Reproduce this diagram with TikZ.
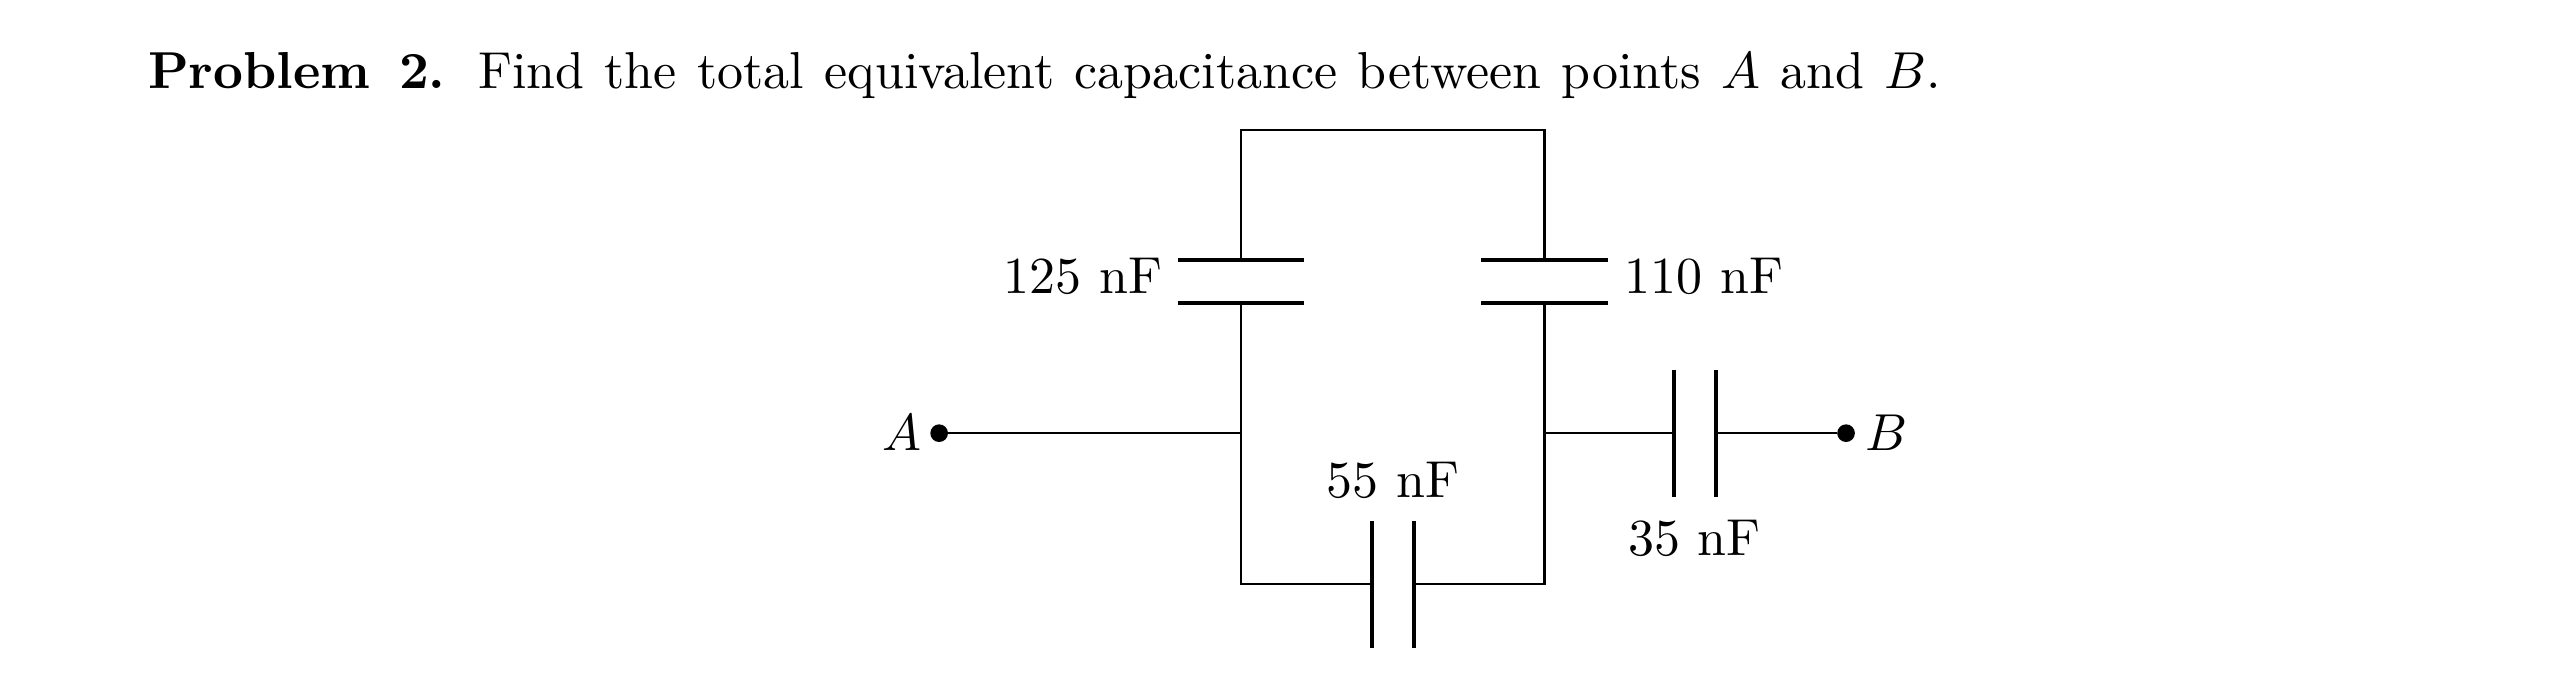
\documentclass[tikz,border=0pt]{standalone}
\usepackage{amsmath, amssymb}
\usetikzlibrary{calc}
\tikzstyle{platehor}=[rectangle,fill=black,inner sep=0pt,outer sep=0pt,minimum width=1.704cm/2,minimum height=0.8pt]
\tikzstyle{platever}=[rectangle,fill=black,inner sep=0pt,outer sep=0pt,minimum width=0.8pt,minimum height=1.716cm/2]
\tikzstyle{borne}=[circle,fill=black,inner sep=0pt,outer sep=0pt,minimum size=3.4pt]
\tikzstyle{valeur}=[inner sep=0pt]
\tikzstyle{fil}=[line width=0.4pt]
\begin{document}
\begin{tikzpicture}
\useasboundingbox (0,0) rectangle (17.262,4.686);
\node[valeur,anchor=base west] (titre) at (0.994,4.09) {\hbox to 345pt{\textbf{Problem\hskip 1pt\ 2.} Find the total equivalent capacitance between points $A$ and $B$.}};
%Bornes
\node[borne] (a) at (6.350,1.757) {};
\node[borne] (b) at (12.482,1.757) {};
\node[valeur] (la) at (6.096,1.757) {$A$};
\node[valeur] (lb) at (12.757,1.757) {$B$};
%Coins
\coordinate (hg) at (8.394,3.804);
\coordinate (hd) at (10.443,3.804);
\coordinate (mg) at (8.394,1.757);
\coordinate (md) at (10.443,1.757);
\coordinate (bg) at (8.394,0.735);
\coordinate (bd) at (10.443,0.735);
%Condensateurs
\node[platehor] (c1h) at (8.394,2.930) {};
\node[platehor] (c1b) at (8.394,2.640) {};
\node[platehor] (c2h) at (10.443,2.930) {};
\node[platehor] (c2b) at (10.443,2.640) {};
\node[platever] (c3g) at (9.276,0.735) {};
\node[platever] (c3d) at (9.561,0.735) {};
\node[platever] (c4g) at (11.321,1.757) {};
\node[platever] (c4d) at (11.605,1.757) {};
\node[valeur] (v1) at (7.322,2.815) {125 nF};
\node[valeur] (v2) at (11.521,2.815) {110 nF};
\node[valeur] (v3) at (9.419,1.44) {55 nF};
\node[valeur] (v4) at (11.458,1.046) {35 nF};
%Fils
\draw[fil] (c1h) -- (hg) -- (hd) -- (c2h);
\draw[fil] (c1b) -- (mg) -- (bg) -- (c3g);
\draw[fil] (c2b) -- (md) -- (bd) -- (c3d);
\draw[fil] (a) -- (mg);
\draw[fil] (md) -- (c4g);
\draw[fil] (c4d) -- (b);
\end{tikzpicture}
\end{document}
